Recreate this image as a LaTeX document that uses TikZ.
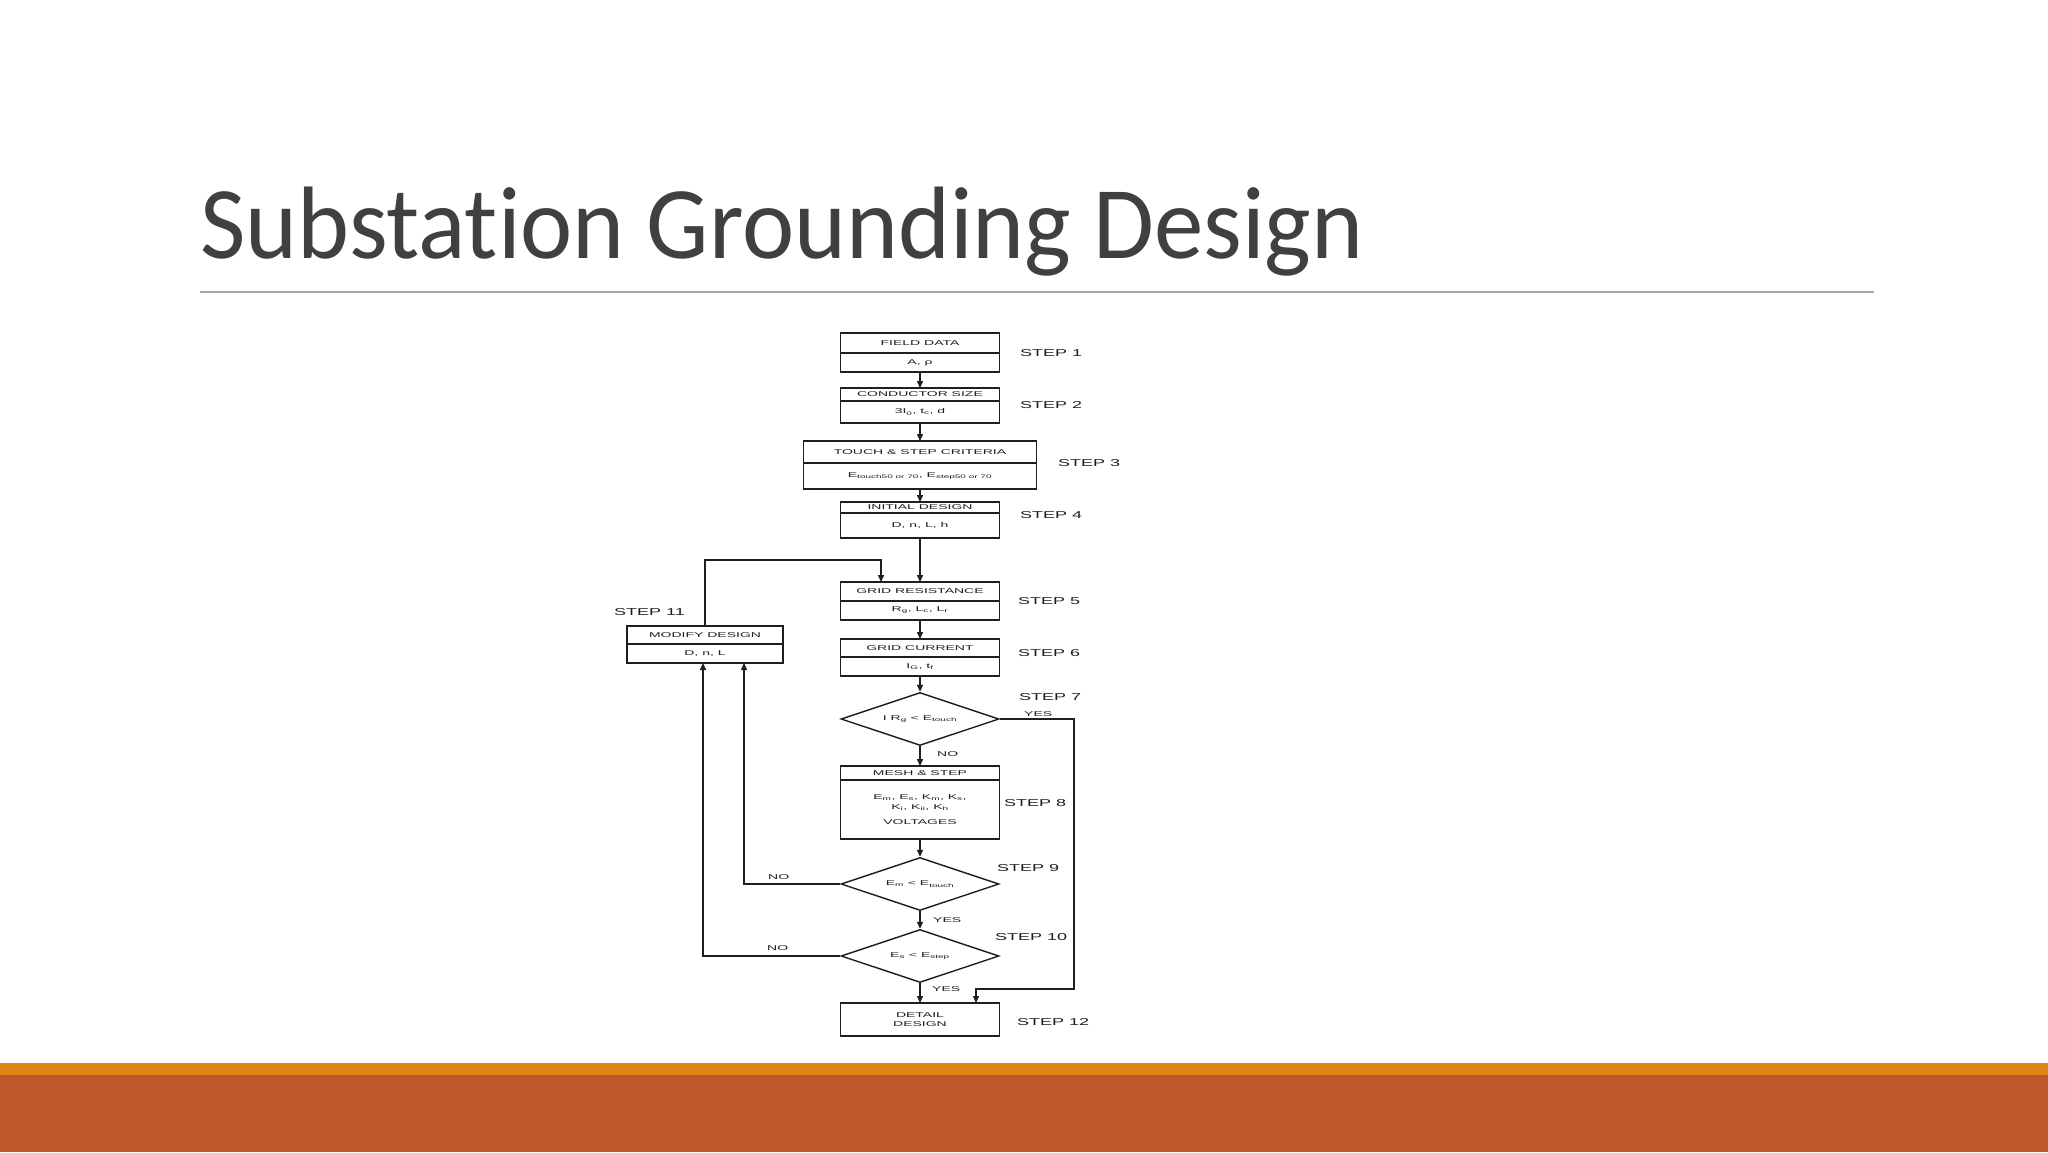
\documentclass[tikz,border=0pt]{standalone}
\usepackage{fontspec}
\usepackage{tikz}
\usetikzlibrary{positioning,shapes.geometric,arrows.meta}
\newfontfamily\titlefont[FakeStretch=0.96,Ligatures=NoCommon]{Carlito}
\newfontfamily\chartfont[FakeStretch=2.0]{Liberation Sans}
\newfontfamily\stepfont[FakeStretch=1.8]{Liberation Sans}
\definecolor{ink}{HTML}{1E1E1E}
\definecolor{titlegray}{HTML}{404040}
\definecolor{rulegray}{HTML}{A6A6A6}
\definecolor{barorange}{HTML}{E08614}
\definecolor{barrust}{HTML}{BC582C}
\tikzset{
  part/.style={draw=ink, line width=1.4pt, minimum width=159pt, inner sep=0pt, outer sep=0pt,
    text=ink, font=\chartfont\fontsize{7}{8}\selectfont},
  test/.style={diamond, aspect=3, draw=ink, line width=1.4pt, inner sep=0pt,
    minimum width=158pt, minimum height=53pt, text=ink, font=\chartfont\fontsize{7}{8}\selectfont},
  steplabel/.style={anchor=west, inner sep=0pt, text=ink, font=\stepfont\fontsize{10}{12}\selectfont},
  answer/.style={anchor=west, inner sep=0pt, text=ink, font=\chartfont\fontsize{7}{8}\selectfont},
  wire/.style={draw=ink, line width=1.4pt},
  arr/.style={wire, -{Triangle[length=7pt,width=6pt]}}
}

\begin{document}
\begin{tikzpicture}[x=1pt,y=-1pt]
  \useasboundingbox (0,0) rectangle (2048,1152);
  \fill[white] (0,0) rectangle (2048,1152);
  \fill[barorange] (0,1063) rectangle (2048,1075);
  \fill[barrust] (0,1075) rectangle (2048,1152);
  \node[anchor=base west, inner sep=0pt, text=titlegray,
    font=\titlefont\fontsize{103}{120}\selectfont] (title) at (200,258) {Substation Grounding Design};
  \draw[rulegray, line width=2pt] (200,292) -- (1874,292);

  \node[part, minimum height=20pt] (fd) at (920,343) {FIELD DATA};
  \node[part, minimum height=19pt, below=0pt of fd] (fdv) {A, ρ};
  \node[part, minimum height=13pt] (cs) at (920,394.5) {CONDUCTOR SIZE};
  \node[part, minimum height=22pt, below=0pt of cs] (csv) {3I\textsubscript{0}, t\textsubscript{c}, d};
  \node[part, minimum width=233pt, minimum height=22pt] (tc) at (920,452) {TOUCH \& STEP CRITERIA};
  \node[part, minimum width=233pt, minimum height=26pt, below=0pt of tc] (tcv)
    {E\textsubscript{touch50 or 70}, E\textsubscript{step50 or 70}};
  \node[part, minimum height=11pt] (id) at (920,507.5) {INITIAL DESIGN};
  \node[part, minimum height=25pt, below=0pt of id] (idv) {D, n, L, h};
  \node[part, minimum height=19pt] (gr) at (920,591.5) {GRID RESISTANCE};
  \node[part, minimum height=19pt, below=0pt of gr] (grv) {R\textsubscript{g}, L\textsubscript{c}, L\textsubscript{r}};
  \node[part, minimum height=18pt] (gc) at (920,648) {GRID CURRENT};
  \node[part, minimum height=19pt, below=0pt of gc] (gcv) {I\textsubscript{G}, t\textsubscript{f}};
  \node[test] (T7) at (920,719) {I R\textsubscript{g} < E\textsubscript{touch}};
  \node[part, minimum height=14pt] (ms) at (920,773) {MESH \& STEP};
  \node[part, minimum height=59pt, align=center, below=0pt of ms] (msv)
    {E\textsubscript{m}, E\textsubscript{s}, K\textsubscript{m}, K\textsubscript{s},\\[2pt]
     K\textsubscript{i}, K\textsubscript{ii}, K\textsubscript{h}\\[7pt] VOLTAGES};
  \node[test] (T9) at (920,884) {E\textsubscript{m} < E\textsubscript{touch}};
  \node[test] (T10) at (920,956) {E\textsubscript{s} < E\textsubscript{step}};
  \node[part, minimum height=33pt, align=center] (dd) at (920,1019.5) {DETAIL\\[1pt]DESIGN};
  \node[part, minimum width=156pt, minimum height=18pt] (md) at (705,635) {MODIFY DESIGN};
  \node[part, minimum width=156pt, minimum height=19pt, below=0pt of md] (mdv) {D, n, L};

  \node[steplabel] (S1) at (1020,353) {STEP 1};
  \node[steplabel] (S2) at (1020,405) {STEP 2};
  \node[steplabel] (S3) at (1058,463) {STEP 3};
  \node[steplabel] (S4) at (1020,515) {STEP 4};
  \node[steplabel] (S5) at (1018,601) {STEP 5};
  \node[steplabel] (S6) at (1018,653) {STEP 6};
  \node[steplabel] (S7) at (1019,697) {STEP 7};
  \node[steplabel] (S8) at (1004,803) {STEP 8};
  \node[steplabel] (S9) at (997,868) {STEP 9};
  \node[steplabel] (S10) at (995,937) {STEP 10};
  \node[steplabel] (S11) at (614,612) {STEP 11};
  \node[steplabel] (S12) at (1017,1022) {STEP 12};

  \node[answer] (Y7) at (1024,714) {YES};
  \node[answer] (N7) at (937,754) {NO};
  \node[answer] (N9) at (768,877) {NO};
  \node[answer] (Y9) at (933,920) {YES};
  \node[answer] (N10) at (767,948) {NO};
  \node[answer] (Y10) at (932,989) {YES};

  \draw[arr] (fdv.south) -- (cs.north);
  \draw[arr] (csv.south) -- (tc.north);
  \draw[arr] (tcv.south) -- (id.north);
  \draw[arr] (idv.south) -- (gr.north);
  \draw[arr] (grv.south) -- (gc.north);
  \draw[arr] (gcv.south) -- (T7.north);
  \draw[arr] (T7.south) -- (ms.north);
  \draw[arr] (msv.south) -- (T9.north);
  \draw[arr] (T9.south) -- (T10.north);
  \draw[arr] (T10.south) -- (dd.north);

  \coordinate (back) at (881,560);
  \draw[arr] (md.north) |- (back) -- (back |- gr.north);
  \coordinate (bypass) at (1074,989);
  \coordinate (drop) at (976,989);
  \draw[arr] (T7.east) -| (bypass) -- (drop) -- (drop |- dd.north);
  \draw[arr] (T9.west) -| ([xshift=39pt]mdv.south);
  \draw[arr] (T10.west) -| ([xshift=-2pt]mdv.south);
\end{tikzpicture}
\end{document}
